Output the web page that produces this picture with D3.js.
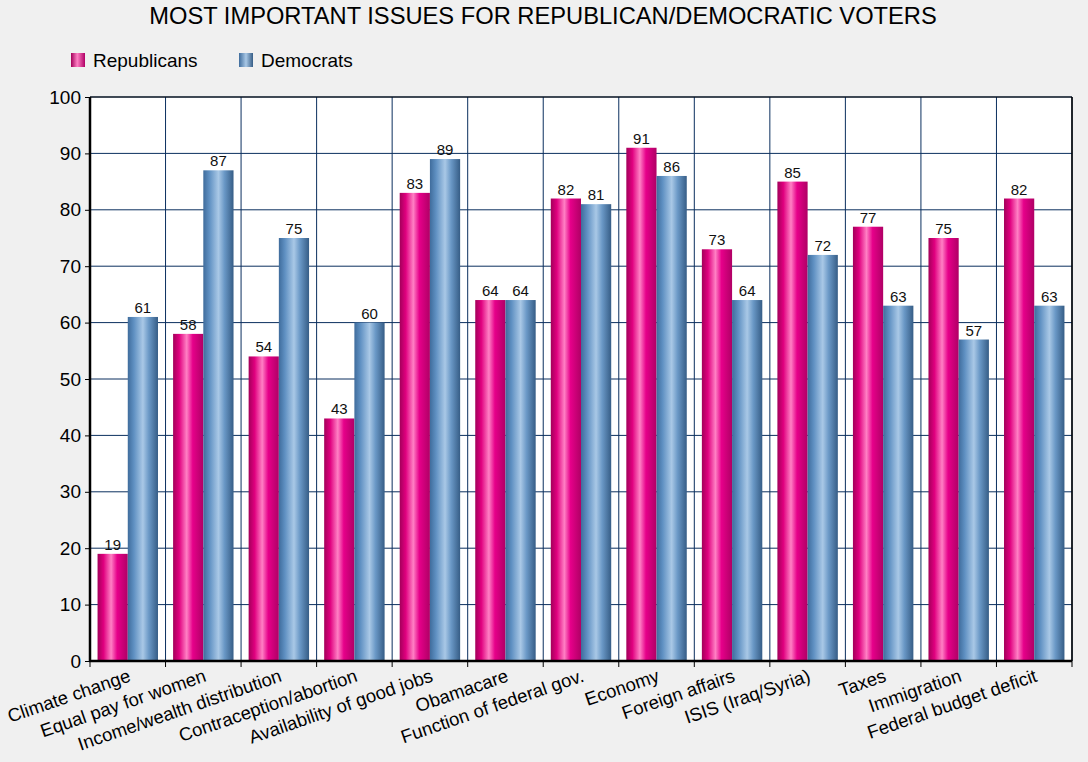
<!DOCTYPE html>
<html><head><meta charset="utf-8">
<script src="https://cdn.jsdelivr.net/npm/d3@7"></script>
<style>body{margin:0;background:#f0f0f0;}svg{display:block;font-family:"Liberation Sans",Arial,sans-serif;}</style>
</head><body>
<svg id="c" width="1088" height="762"></svg>
<script>
const categories = ["Climate change","Equal pay for women","Income/wealth distribution","Contraception/abortion","Availability of good jobs","Obamacare","Function of federal gov.","Economy","Foreign affairs","ISIS (Iraq/Syria)","Taxes","Immigration","Federal budget deficit"];
const republicans = [19,58,54,43,83,64,82,91,73,85,77,75,82];
const democrats = [61,87,75,60,89,64,81,86,64,72,63,57,63];
const seriesNames = ["Republicans","Democrats"];
const yTicks = [0,10,20,30,40,50,60,70,80,90,100];

const svg = d3.select("#c");
const L=90,R=1072,T=97,B=661;
const x = d3.scaleBand().domain(categories).range([L,R]).padding(0);
const y = d3.scaleLinear().domain([0,100]).range([B,T]);
const xs = d3.scaleBand().domain(seriesNames).range([0,x.bandwidth()]).paddingOuter(0.25).paddingInner(0);

const defs = svg.append("defs");
function grad(id, stops){
  const g = defs.append("linearGradient").attr("id",id).attr("x1","0%").attr("x2","100%").attr("y1","0").attr("y2","0");
  stops.forEach(s=>g.append("stop").attr("offset",s[0]).attr("stop-color",s[1]));
}
grad("gR",[["0%","#a3005a"],["20%","#e0007f"],["45%","#ff80c4"],["65%","#e6008a"],["100%","#b00065"]]);
grad("gB",[["0%","#3f6c9c"],["20%","#5f90c2"],["50%","#a9c8e6"],["70%","#6a98c6"],["100%","#365d86"]]);
grad("lR",[["0%","#a3005a"],["45%","#ff80c4"],["100%","#b00065"]]);
grad("lB",[["0%","#3f6c9c"],["50%","#a9c8e6"],["100%","#365d86"]]);

// plot bg
svg.append("rect").attr("x",L).attr("y",T).attr("width",R-L).attr("height",B-T).attr("fill","#fff");
// grid horizontal
svg.append("g").selectAll("line").data(yTicks.filter(d=>d>0)).join("line")
  .attr("x1",L).attr("x2",R).attr("y1",d=>y(d)).attr("y2",d=>y(d)).attr("stroke","#0b2f5e").attr("stroke-width",1);
// grid vertical
const bounds = categories.map(c=>x(c)).concat([R]);
svg.append("g").selectAll("line").data(bounds.slice(1)).join("line")
  .attr("x1",d=>d).attr("x2",d=>d).attr("y1",T).attr("y2",B).attr("stroke","#0b2f5e").attr("stroke-width",1);

// bars
const data = categories.map((c,i)=>({c, vals:[{s:"Republicans",v:republicans[i]},{s:"Democrats",v:democrats[i]}]}));
const grp = svg.append("g").selectAll("g").data(data).join("g").attr("transform",d=>`translate(${x(d.c)},0)`);
grp.selectAll("rect").data(d=>d.vals).join("rect")
  .attr("x",d=>xs(d.s)).attr("width",xs.bandwidth()).attr("y",d=>y(d.v)).attr("height",d=>B-y(d.v))
  .attr("fill",d=>d.s==="Republicans"?"url(#gR)":"url(#gB)");
grp.selectAll("text").data(d=>d.vals).join("text")
  .attr("x",d=>xs(d.s)+xs.bandwidth()/2).attr("y",d=>y(d.v)-4).attr("text-anchor","middle")
  .attr("font-size",15).attr("fill","#111").text(d=>d.v);

// axes
const yAxis = d3.axisLeft(y).tickValues(yTicks).tickSize(5).tickPadding(4);
const ya = svg.append("g").attr("transform",`translate(${L},0)`).call(yAxis);
ya.select(".domain").remove();
ya.selectAll("text").attr("font-size",19).attr("fill","#000").attr("font-family","Liberation Sans, Arial, sans-serif");
ya.selectAll("line").attr("stroke","#000");

// x ticks
svg.append("g").selectAll("line").data(bounds).join("line")
  .attr("x1",d=>d).attr("x2",d=>d).attr("y1",B).attr("y2",B+6).attr("stroke","#000");
// x labels
svg.append("g").selectAll("text").data(categories).join("text")
  .attr("transform",d=>`translate(${x(d)+x.bandwidth()/2+4},${B+20}) rotate(-19)`)
  .attr("text-anchor","end").attr("font-size",18.5).attr("fill","#000").text(d=>d);

// borders
svg.append("line").attr("x1",L).attr("x2",R).attr("y1",T).attr("y2",T).attr("stroke","#000").attr("stroke-width",1);
svg.append("line").attr("x1",R).attr("x2",R).attr("y1",T).attr("y2",B).attr("stroke","#000").attr("stroke-width",1.5);
svg.append("line").attr("x1",L).attr("x2",L).attr("y1",T).attr("y2",B+1).attr("stroke","#000").attr("stroke-width",2.5);
svg.append("line").attr("x1",L-1).attr("x2",R).attr("y1",B).attr("y2",B).attr("stroke","#000").attr("stroke-width",2.5);

// title
svg.append("text").attr("x",543).attr("y",24).attr("text-anchor","middle").attr("font-size",23.7).attr("fill","#000")
  .text("MOST IMPORTANT ISSUES FOR REPUBLICAN/DEMOCRATIC VOTERS");

// legend
const leg = svg.append("g").selectAll("g").data(seriesNames).join("g")
  .attr("transform",(d,i)=>`translate(${71+i*168},53)`);
leg.append("rect").attr("width",14).attr("height",14).attr("fill",(d,i)=>i===0?"url(#lR)":"url(#lB)");
leg.append("text").attr("x",22).attr("y",14).attr("font-size",19).attr("fill","#000").text(d=>d);
</script>
</body></html>
